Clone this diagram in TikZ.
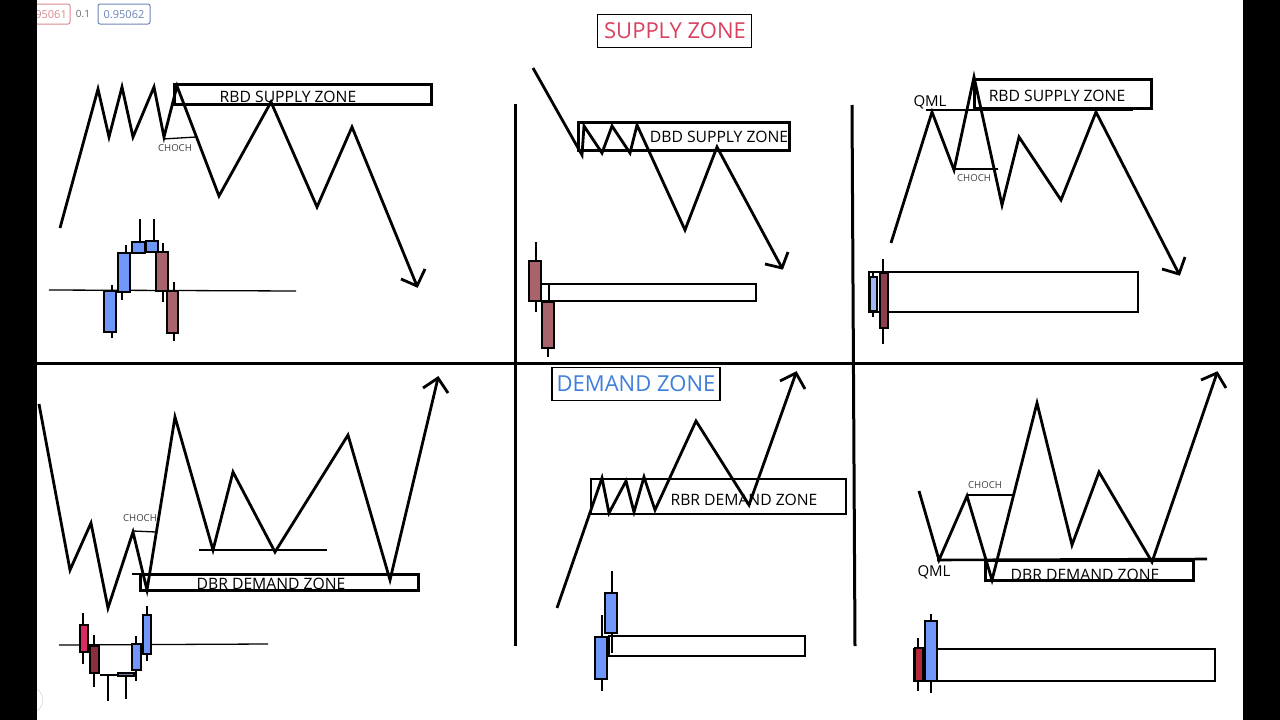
\documentclass[tikz,border=0pt]{standalone}
\usepackage{fontspec}
\setmainfont{Open Sans}
\usetikzlibrary{calc}
\definecolor{bullblue}{HTML}{6F97FA}
\definecolor{paleblue}{HTML}{9DB8F5}
\definecolor{bearbrown}{HTML}{A9636C}
\definecolor{darkbrown}{HTML}{8E3F4E}
\definecolor{wine}{HTML}{8B2F3C}
\definecolor{crimson}{HTML}{D92B62}
\definecolor{redbody}{HTML}{B02A38}
\definecolor{greybody}{HTML}{6A7AA0}
\definecolor{supplyred}{HTML}{D9415F}
\definecolor{demandblue}{HTML}{3F7FD9}
\definecolor{chipred}{HTML}{D98A90}
\definecolor{chipblue}{HTML}{6C86B8}

\begin{document}
\begin{tikzpicture}[x=1pt, y=-1pt,
    swing/.style={line width=2.8pt},
    zone/.style={draw, line width=3pt},
    thinzone/.style={draw, line width=1.3pt},
    level/.style={line width=1.3pt},
    divider/.style={line width=3pt},
    candle/.style={draw, line width=1.3pt},
    wick/.style={line width=1.3pt},
    zonetext/.style={inner sep=0pt, font=\fontsize{15.7}{16}\selectfont},
    chochtext/.style={inner sep=0pt, text=black!75, font=\fontsize{9.6}{10}\selectfont},
    qmltext/.style={inner sep=0pt, font=\fontsize{15}{15}\selectfont},
    headtext/.style={inner sep=0pt, font=\fontsize{22}{22}\selectfont},
    chip/.style={rounded corners=2pt, line width=1pt, fill=white}]
  \useasboundingbox (0, 0) rectangle (1280, 720);
  \fill[white] (0, 0) rectangle (1280, 720);

  \draw[chip, draw=chipred] (20, 4) rectangle (70, 24);
  \draw[chip, draw=chipblue] (98, 4) rectangle (150, 24);
  \node[anchor=east, inner sep=0pt, text=chipred, font=\fontsize{11}{11}\selectfont] (redchip) at (67, 14.5) {95061};
  \node[inner sep=0pt, text=black!60, font=\fontsize{10}{10}\selectfont] (tick) at (83, 14) {0.1};
  \node[inner sep=0pt, text=chipblue, font=\fontsize{11}{11}\selectfont] (bluechip) at (124, 14.5) {0.95062};
  \draw[black!12, line width=0.8pt] (30, 700) circle (13);

  \draw[divider] (37, 363) -- (1243, 363);
  \draw[divider] (515.5, 104) -- (515.5, 646);
  \draw[divider] (852, 105) -- (855, 646);

  \draw[line width=1.4pt] (597.5, 14.5) rectangle (751.5, 47.5);
  \node[headtext, text=supplyred] (supplyhead) at (675, 31) {SUPPLY ZONE};
  \draw[line width=1.4pt] (552, 367.5) rectangle (720, 400.5);
  \node[headtext, text=demandblue] (demandhead) at (636, 384) {DEMAND ZONE};

  % zones
  \draw[zone] (174, 84.5) rectangle (431.5, 104.5);
  \node[zonetext] (rbdone) at (288, 97) {RBD SUPPLY ZONE};
  \draw[zone] (578, 122.5) rectangle (789, 150);
  \node[zonetext] (dbdone) at (719, 137) {DBD SUPPLY ZONE};
  \draw[zone] (974, 79.5) rectangle (1151, 108.5);
  \node[zonetext] (rbdtwo) at (1057, 95.5) {RBD SUPPLY ZONE};
  \draw[zone] (140, 574) rectangle (418, 590.5);
  \node[zonetext] (dbrone) at (271, 584) {DBR DEMAND ZONE};
  \draw[thinzone, line width=1.6pt] (591, 479) rectangle (846, 514);
  \node[zonetext] (rbrone) at (744, 500) {RBR DEMAND ZONE};
  \node[zonetext] (dbrtwo) at (1085, 575) {DBR DEMAND ZONE};
  \draw[zone] (985, 560) rectangle (1193, 580.5);
  \draw[thinzone] (541, 284) rectangle (756, 301);
  \draw[level] (549, 284) -- (549, 301);
  \draw[thinzone] (609, 636) rectangle (805, 656);
  \draw[level] (612, 636) -- (612, 653);
  \draw[thinzone] (869, 272) rectangle (1138, 312);
  \draw[thinzone] (914, 649) rectangle (1215, 681);

  % price swings
  \draw[swing] (60, 228) -- (98, 89) -- (109, 137) -- (122, 87) -- (133, 137) -- (154, 87) -- (164, 137)
    -- (177, 86) -- (219, 196) -- (271, 102) -- (317, 207) -- (352, 127) -- (417, 286);
  \draw[swing] (401, 279) -- (417, 286) -- (425, 269);
  \draw[swing] (533, 68) -- (582, 155) -- (584, 126) -- (602, 153) -- (612, 126) -- (630, 153) -- (637, 125)
    -- (685, 230) -- (717, 147) -- (782, 268);
  \draw[swing] (765, 264) -- (782, 268) -- (788, 252);
  \draw[swing] (891, 243) -- (932, 112) -- (954, 170) -- (974, 77) -- (1002, 205) -- (1019, 137)
    -- (1061, 200) -- (1096, 112) -- (1179, 274);
  \draw[swing] (1162, 269) -- (1179, 274) -- (1185, 257);
  \draw[swing] (39, 404) -- (70, 570) -- (91, 523) -- (108, 608) -- (133, 532) -- (147, 590) -- (175, 417)
    -- (213, 550) -- (233, 472) -- (275, 552) -- (348, 435) -- (390, 580) -- (438, 378);
  \draw[swing] (423, 388) -- (438, 378) -- (448, 393);
  \draw[swing] (557, 608) -- (602, 478) -- (609, 513) -- (626, 481) -- (634, 512) -- (644, 477)
    -- (655, 510) -- (696, 421) -- (749, 505) -- (796, 373);
  \draw[swing] (780, 381) -- (796, 373) -- (805, 389);
  \draw[swing] (919, 491) -- (939, 560) -- (967, 496) -- (992, 580) -- (1037, 403) -- (1072, 545)
    -- (1099, 472) -- (1152, 562) -- (1217, 373);
  \draw[swing] (1201, 380) -- (1217, 373) -- (1226, 388);

  % levels
  \draw[level] (163, 139) -- (196, 137);
  \node[chochtext] (chochone) at (175, 148) {CHOCH};
  \draw[level] (133, 531) -- (156, 532);
  \node[chochtext] (chochtwo) at (140, 518) {CHOCH};
  \draw[level] (954, 169) -- (998, 169);
  \node[chochtext] (chochthree) at (974, 178) {CHOCH};
  \draw[level] (967, 495) -- (1015, 495);
  \node[chochtext] (chochfour) at (985, 485) {CHOCH};
  \draw[line width=2.6pt] (926, 110) -- (1133, 110);
  \node[qmltext] (qmlone) at (930, 102) {QML};
  \draw[line width=2.6pt] (937, 560) -- (1207, 559);
  \node[qmltext] (qmltwo) at (934, 572) {QML};
  \draw[line width=2.6pt] (199, 550) -- (327, 550);
  \draw[level] (132, 574) -- (140, 574);
  \draw[level] (49, 290) -- (296, 291);
  \draw[level] (59, 645) -- (268, 644);

  % candles: left/top/right/bottom/wick x/wick top/wick bottom/colour
  \foreach \xa/\ya/\xb/\yb/\w/\hi/\lo/\col in {
      104/291/116/332/112/285/338/bullblue, 118/253/130/292/126/245/292/bullblue,
      132/242/145/253/140/219/253/bullblue, 146/241/158/252/154/219/252/bullblue,
      156/252/168/291/163/243/302/bearbrown, 167/291/178/333/174/282/341/bearbrown,
      529/261/541/301/536/242/312/bearbrown, 542/302/554/348/548/302/357/bearbrown,
      870/277/877/311/873/272/317/paleblue, 880/273/888/328/883/259/344/darkbrown,
      80/625/88/652/83/613/664/crimson, 90/646/99/673/94/635/687/wine,
      132/644/141/670/136/636/681/bullblue, 143/615/151/654/147/606/661/bullblue,
      595/637/607/679/602/615/691/bullblue, 605/593/617/633/612/571/653/bullblue,
      915/648/923/681/918/638/691/redbody, 925/621/937/681/931/614/693/bullblue} {
    \draw[wick] (\w, \hi) -- (\w, \lo);
    \draw[candle, fill=\col] (\xa, \ya) rectangle (\xb, \yb);
  }
  \draw[wick] (122, 292) -- (122, 300);
  \draw[wick] (108, 675) -- (108, 701);
  \draw[line width=2.6pt] (100, 675) -- (117, 675);
  \draw[wick] (126, 675) -- (126, 699);
  \draw[candle, fill=greybody] (118, 673) rectangle (134, 676);

  \fill[black] (0, 0) rectangle (37, 720);
  \fill[black] (1243, 0) rectangle (1280, 720);
\end{tikzpicture}
\end{document}
